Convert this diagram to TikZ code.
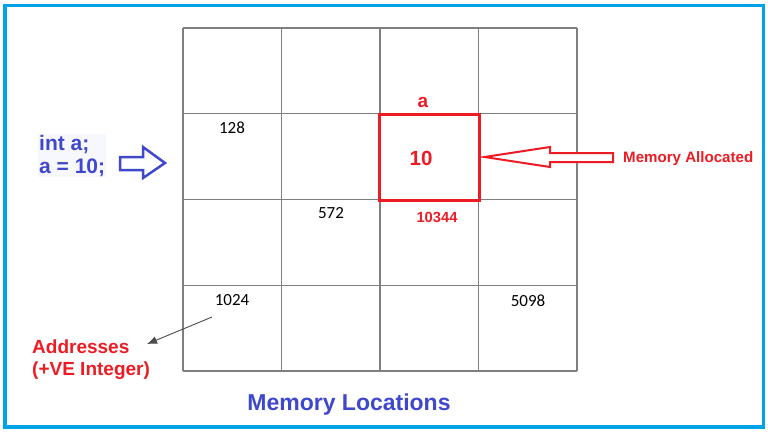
\documentclass[tikz,border=0pt]{standalone}
\usepackage{fontspec}
\setmainfont{Liberation Sans}
\newfontfamily\numfont{Carlito}
\usetikzlibrary{arrows.meta,calc}

\definecolor{frameblue}{HTML}{00A2E8}
\definecolor{memred}{HTML}{ED1C24}
\definecolor{codeblue}{HTML}{3F48CC}
\definecolor{gridgray}{HTML}{7F7F7F}

\begin{document}
\begin{tikzpicture}[x=1pt, y=-1pt]
\useasboundingbox (0,0) rectangle (768,432);
% draw frame
	\fill[white] (0,0) rectangle (768,432);
	\draw[line width=3.5, color=frameblue] (5,5.5) rectangle (763.5,427);

% draw memory grid
	\foreach \i in {0,...,4} {
		\draw[line width=1.3, color=gridgray] (183+98.5*\i,28) -- (183+98.5*\i,371);
		\draw[line width=1.3, color=gridgray] (183,28+85.75*\i) -- (577,28+85.75*\i);
	}

% draw addresses
	\node[anchor=base, font=\numfont\fontsize{17}{17}\selectfont] (a128) at (232,133) {128};
	\node[anchor=base, font=\numfont\fontsize{17}{17}\selectfont] (a572) at (331,218) {572};
	\node[anchor=base, font=\numfont\fontsize{17}{17}\selectfont] (a1024) at (232,305) {1024};
	\node[anchor=base, font=\numfont\fontsize{17}{17}\selectfont] (a5098) at (528,306) {5098};

% draw allocated cell
	\node[draw=memred, line width=3, minimum width=100, minimum height=86, inner sep=0] (cellA) at (429.5,157.5) {};
	\node[anchor=base, text=memred, font=\bfseries\fontsize{19}{19}\selectfont] (varA) at (423,107) {a};
	\node[anchor=base, text=memred, font=\bfseries\fontsize{20.5}{20.5}\selectfont] (valA) at (421,165) {10};
	\node[anchor=base, text=memred, font=\bfseries\fontsize{14.7}{14.7}\selectfont] (adrA) at (437,222) {10344};

% draw declaration and its arrow
	\node[anchor=base west, align=left, inner sep=1, fill=codeblue!4, text=codeblue,
		font=\bfseries\fontsize{21}{23}\selectfont] (decl) at (38,173) {int a;\\a = 10;};
	\draw[line width=2.5, color=codeblue, line join=miter]
		(120,157) -- (143,157) -- (143,147) -- (165,163) -- (143,178) -- (143,170) -- (120,170) -- cycle;

% draw allocation arrow
	\coordinate (tipA) at ($(cellA.east)+(3.5,-0.5)$);
	\draw[line width=2, color=memred, fill=white, line join=miter]
		(tipA) -- (550,147) -- (550,153) -- (613,153) -- (613,162) -- (550,162) -- (550,167) -- cycle;
	\node[anchor=base west, inner sep=0, text=memred, font=\bfseries\fontsize{15.1}{15.1}\selectfont] (alloc) at (623,162) {Memory Allocated};

% draw addresses label
	\node[anchor=base west, align=left, inner sep=0, text=memred,
		font=\bfseries\fontsize{19}{22}\selectfont] (addr) at (32,375) {Addresses\\(+VE Integer)};
	\coordinate (from1024) at (212,317);
	\coordinate (toaddr) at (147,344);
	\draw[line width=0.9, color=black!70, -{Latex[length=10,width=8]}] (from1024) -- (toaddr);

% draw caption
	\node[anchor=base, text=codeblue, font=\bfseries\fontsize{23}{23}\selectfont] (caption) at (349,410) {Memory Locations};
\end{tikzpicture}
\end{document}
